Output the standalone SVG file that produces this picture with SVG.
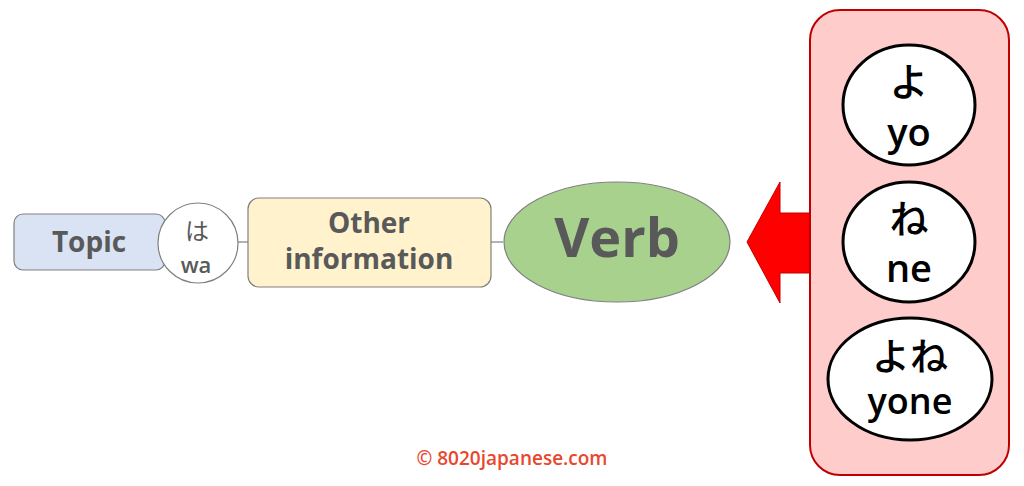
<svg xmlns="http://www.w3.org/2000/svg" width="1024" height="486" viewBox="0 0 1024 486">
<style>
  .t { font-family: "Open Sans", "Noto Sans", "Noto Sans CJK JP", sans-serif; text-anchor: middle; }
  .g { fill: #595959; font-weight: bold; }
  .k { fill: #000000; font-weight: 600; }
  .kana { font-family: "Noto Sans CJK JP", sans-serif; font-weight: 500; fill: #000000; text-anchor: middle; }
  .node { stroke: #808080; stroke-width: 1.2; }
  .pc { fill: #ffffff; stroke: #000000; stroke-width: 3; }
  .conn { stroke: #808080; stroke-width: 1.2; fill: none; }
</style>
<rect width="1024" height="486" fill="#ffffff"/>
<g id="connectors">
  <line class="conn" x1="238" y1="242" x2="248" y2="242"/>
  <line class="conn" x1="491" y1="242" x2="503" y2="242"/>
</g>
<g id="topic">
  <rect class="node" x="14" y="214" width="151" height="56" rx="9" fill="#dae3f3"/>
  <text class="t g" x="89" y="252" font-size="28">Topic</text>
</g>
<g id="wa">
  <circle class="node" cx="198" cy="243" r="40" fill="#ffffff"/>
  <text x="197" y="240" font-size="24" fill="#595959" font-family="Noto Sans CJK JP, sans-serif" text-anchor="middle">は</text>
  <text class="t" x="196" y="273" font-size="22" fill="#595959" font-weight="600">wa</text>
</g>
<g id="other">
  <rect class="node" x="248" y="198" width="243" height="89" rx="11" fill="#fff2cc"/>
  <text class="t g" x="369" y="233" font-size="28">Other</text>
  <text class="t g" x="369" y="269" font-size="28">information</text>
</g>
<g id="verb">
  <ellipse class="node" cx="617" cy="242" rx="113" ry="60" fill="#a9d18e"/>
  <text class="t g" x="617" y="257" font-size="54">Verb</text>
</g>
<g id="arrow">
  <polygon points="747,242 780,182 780,213 812,213 812,273 780,273 780,303" fill="#ff0000" stroke="#c00000" stroke-width="1"/>
</g>
<g id="particles">
  <rect x="810" y="10" width="199" height="465" rx="30" fill="#ffcccc" stroke="#c00000" stroke-width="2"/>
  <g id="yo">
    <ellipse class="pc" cx="909" cy="105" rx="66" ry="60"/>
    <text class="kana" x="909" y="96" font-size="39">よ</text>
    <text class="t k" x="909" y="146" font-size="38">yo</text>
  </g>
  <g id="ne">
    <ellipse class="pc" cx="909" cy="242" rx="66" ry="60"/>
    <text class="kana" x="909" y="233" font-size="39">ね</text>
    <text class="t k" x="909" y="282" font-size="38">ne</text>
  </g>
  <g id="yone">
    <ellipse class="pc" cx="910" cy="379" rx="82" ry="61"/>
    <text class="kana" x="910" y="370" font-size="38">よね</text>
    <text class="t k" x="910" y="414" font-size="36">yone</text>
  </g>
</g>
<text class="t" x="512" y="465" font-size="19" font-weight="600" fill="#e8472e">© 8020japanese.com</text>
</svg>
